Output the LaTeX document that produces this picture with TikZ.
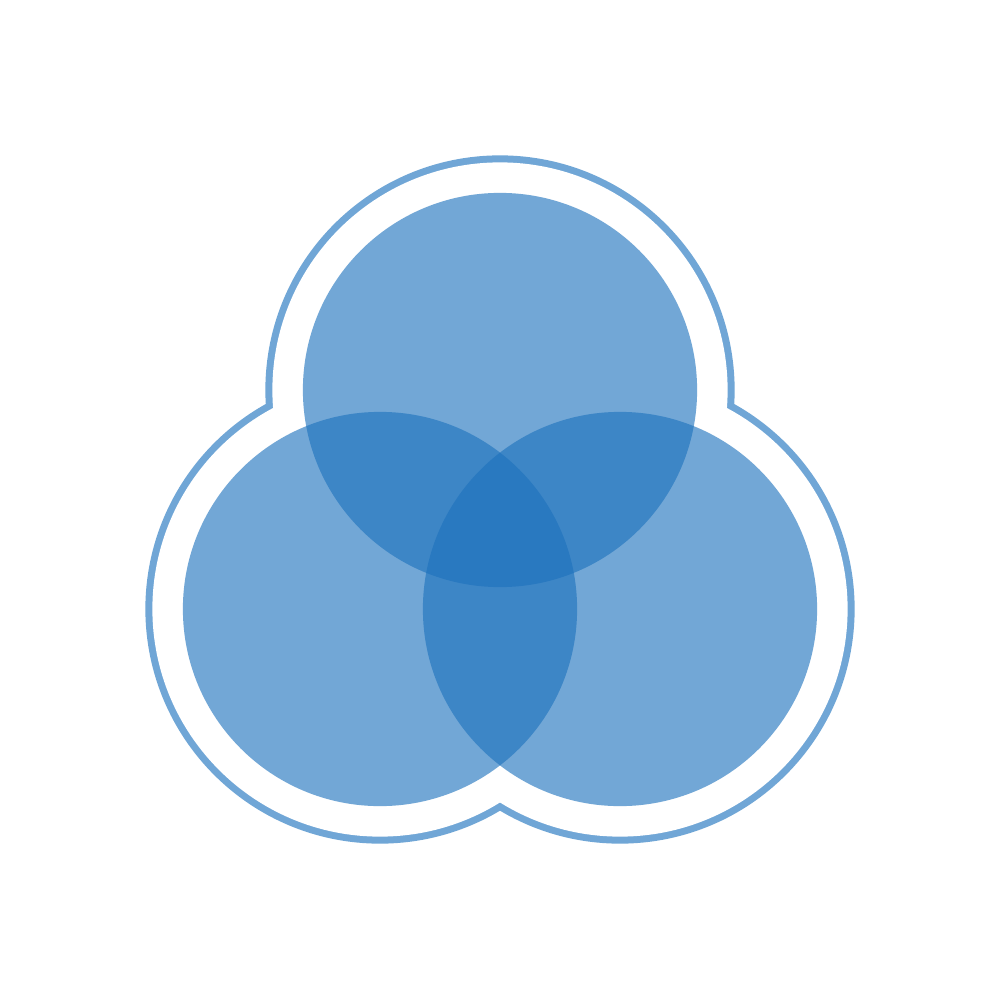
\documentclass[tikz,border=0pt]{standalone}
\begin{document}
\begin{tikzpicture}[x=0.01cm,y=-0.01cm]
\definecolor{vblue}{RGB}{29,114,189}
\definecolor{olblue}{RGB}{112,166,214}
\tikzset{vcirc/.style={fill=vblue,fill opacity=0.62}}
\useasboundingbox (0,0) rectangle (1000,1000);
\fill[white] (0,0) rectangle (1000,1000);
% outline of union
\coordinate (T) at (500,390);
\coordinate (L) at (380,609);
\coordinate (R) at (620,609);
\foreach \c in {T,L,R} \fill[olblue] (\c) circle[radius=2.345cm];
\foreach \c in {T,L,R} \fill[white] (\c) circle[radius=2.275cm];
% venn circles
\node[circle,minimum size=3.94cm,inner sep=0,vcirc] (top) at (T) {};
\node[circle,minimum size=3.94cm,inner sep=0,vcirc] (left) at (L) {};
\node[circle,minimum size=3.94cm,inner sep=0,vcirc] (right) at (R) {};
\end{tikzpicture}
\end{document}
